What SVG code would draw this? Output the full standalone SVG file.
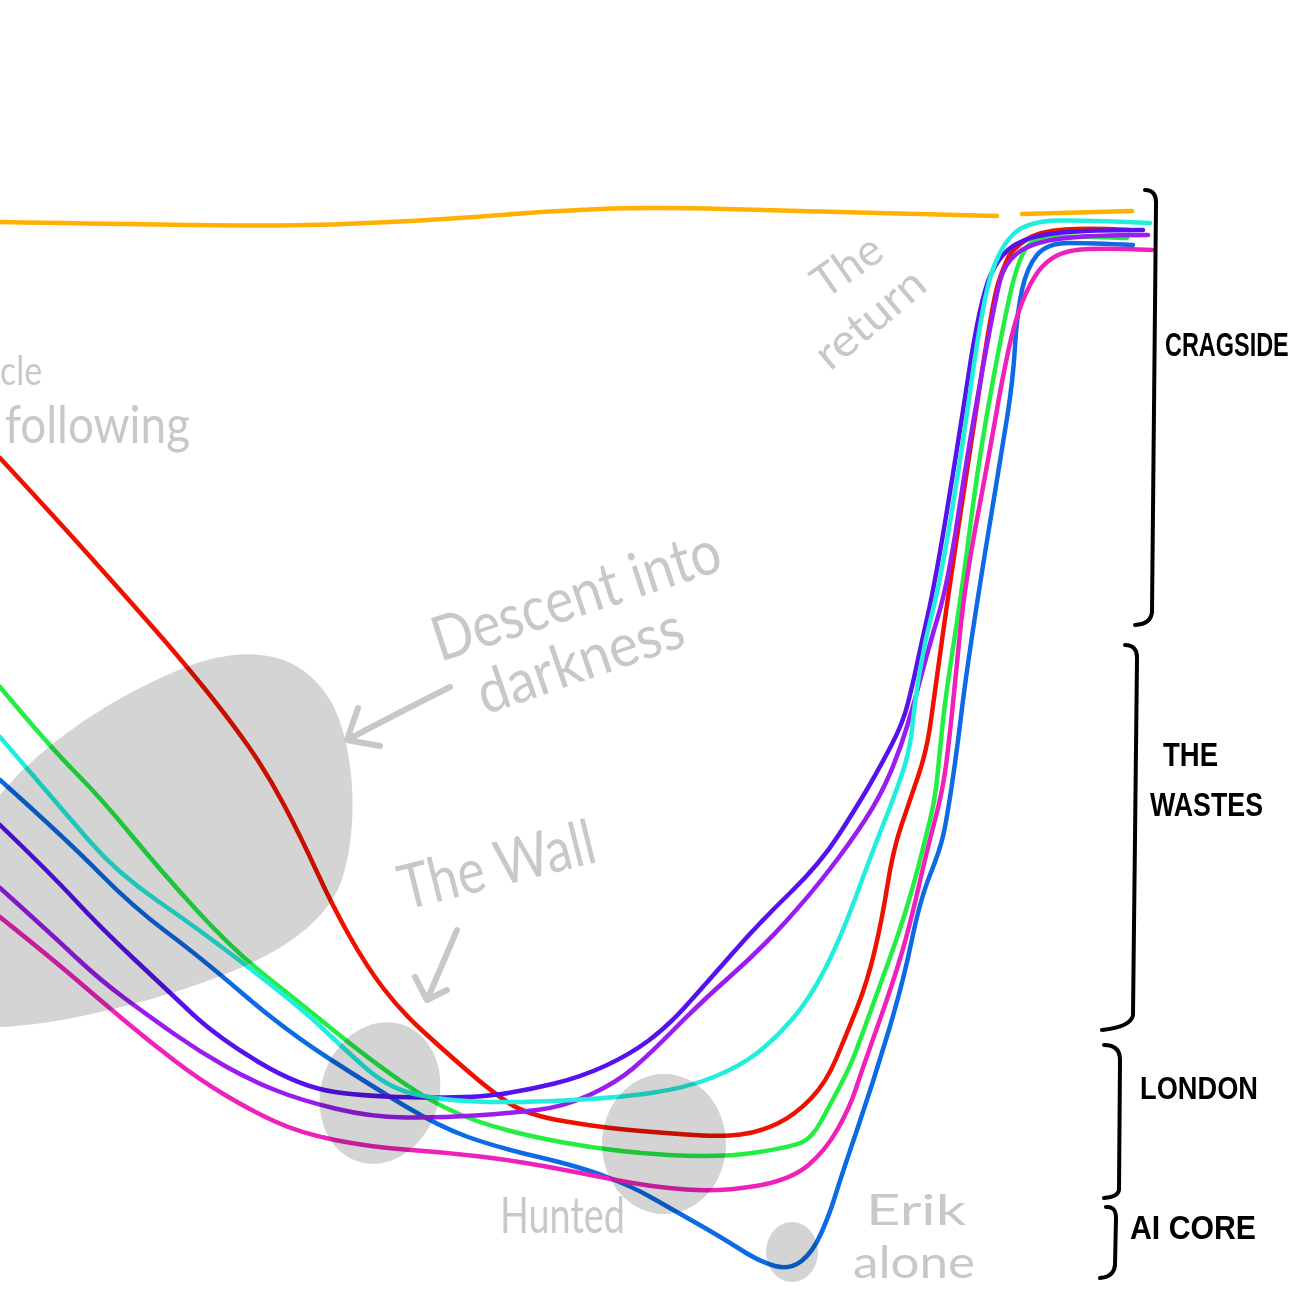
<svg xmlns="http://www.w3.org/2000/svg" width="1300" height="1300" viewBox="0 0 1300 1300">
<style>
.arc{fill:none;stroke-width:4.5;stroke-linecap:round;stroke-linejoin:round}
.blob{fill:#d4d4d4;mix-blend-mode:multiply}
.note{fill:#c8c8c8;font-family:"Lato","Noto Sans","Liberation Sans",sans-serif}
.loc{fill:#000;font-family:"Liberation Sans","DejaVu Sans",sans-serif;font-weight:bold}
.brk{fill:none;stroke:#000;stroke-width:4;stroke-linecap:round;stroke-linejoin:round}
.arw{fill:none;stroke:#c8c8c8;stroke-width:6;stroke-linecap:round;stroke-linejoin:round}
</style>
<rect width="1300" height="1300" fill="#fff"/>
<g id="connectors">
<path id="orange" class="arc" stroke="#ffb000" stroke-width="5" d="M0,222 Q230,226 280,225.5 Q330,225 390,222 Q450,219 500,215 Q550,211 600,209 Q650,207 725,209 Q800,211 997,216"/>
<path id="orange2" class="arc" stroke="#ffb000" stroke-width="5" d="M1022,214 L1132,211"/>
<path id="green" class="arc" stroke="#22ee44" d="M0,687 Q50,747 75,772 Q100,797 130,833.5 Q160,870 196.5,910 Q233,950 266.5,976.5 Q300,1003 335,1031.5 Q370,1060 405,1084 Q440,1108 475.5,1120.5 Q511,1133 563.5,1142.5 Q616,1152 668.5,1155 Q721,1158 756,1152.5 Q791,1147 801.5,1142.5 Q812,1138 821,1121.5 Q830,1105 840,1086 Q850,1067 856,1051 Q862,1035 871,1010 Q880,985 890,957.5 Q900,930 907.5,905 Q915,880 920,860 Q925,840 930,820 Q935,800 937.5,775 Q940,750 942.5,725 Q945,700 954,641.5 Q963,583 971.5,516.5 Q980,450 994,375 Q1008,300 1014,278.5 Q1020,257 1026.5,247.5 Q1033,238 1056.5,237 Q1080,236 1127,238"/>
<path id="red" class="arc" stroke="#ee1100" d="M0,458 Q60,523 90,556.5 Q120,590 150,624 Q180,658 205,689 Q230,720 248.5,746.5 Q267,773 283.5,804 Q300,835 316.5,871 Q333,907 350,937 Q367,967 383.5,988.5 Q400,1010 420,1028.5 Q440,1047 466.5,1070 Q493,1093 510.5,1104 Q528,1115 563,1121 Q598,1127 624.5,1129.5 Q651,1132 686,1134.5 Q721,1137 740.5,1134.5 Q760,1132 777.5,1123.5 Q795,1115 810.5,1099 Q826,1083 836.5,1058 Q847,1033 857,1008 Q867,983 874.5,951.5 Q882,920 887.5,885 Q893,850 901.5,825 Q910,800 918.5,775 Q927,750 931,720 Q935,690 942.5,636.5 Q950,583 960,516.5 Q970,450 981.5,375 Q993,300 998,284 Q1003,268 1008,258 Q1013,248 1026.5,239.5 Q1040,231 1065,229.5 Q1090,228 1130,230"/>
<path id="blue" class="arc" stroke="#0c6ae4" d="M0,780 Q67,840 100,873.5 Q133,907 166.5,932 Q200,957 242.5,993.5 Q285,1030 327.5,1057.5 Q370,1085 405,1106 Q440,1127 468,1137 Q496,1147 538.5,1157 Q581,1167 607,1177 Q633,1187 650.5,1197 Q668,1207 694.5,1222 Q721,1237 740.5,1249.5 Q760,1262 775,1266 Q790,1270 801.5,1261 Q813,1252 821.5,1232.5 Q830,1213 835,1196.5 Q840,1180 856.5,1131.5 Q873,1083 888,1033 Q903,983 911.5,941.5 Q920,900 930,875 Q940,850 943.5,834 Q947,818 952,784 Q957,750 961,716.5 Q965,683 972.5,633 Q980,583 991,516.5 Q1002,450 1007.5,415 Q1013,380 1015,346.5 Q1017,313 1022,290 Q1027,267 1037,255 Q1047,243 1068.5,243 Q1090,243 1133,245"/>
<path id="magenta" class="arc" stroke="#ee22bb" d="M0,917 Q50,957 75,978.5 Q100,1000 125,1021 Q150,1042 175,1061 Q200,1080 225,1095 Q250,1110 275,1121.5 Q300,1133 335,1140 Q370,1147 405,1149.5 Q440,1152 475.5,1156 Q511,1160 546,1166.5 Q581,1173 616,1180 Q651,1187 686,1189.5 Q721,1192 756,1186 Q791,1180 808.5,1165 Q826,1150 838,1128.5 Q850,1107 856,1088.5 Q862,1070 877.5,1026.5 Q893,983 901.5,954 Q910,925 918.5,887.5 Q927,850 935,820 Q943,790 946.5,761.5 Q950,733 952.5,708 Q955,683 960,633 Q965,583 977.5,516.5 Q990,450 996,415 Q1002,380 1008.5,350 Q1015,320 1022.5,301.5 Q1030,283 1037.5,272.5 Q1045,262 1056,256 Q1067,250 1088.5,249 Q1110,248 1152,250"/>
<path id="purple" class="arc" stroke="#9a1cee" d="M0,888 Q50,933 75,956.5 Q100,980 125,998.5 Q150,1017 175,1034.5 Q200,1052 225,1066 Q250,1080 275,1090 Q300,1100 335,1108.5 Q370,1117 405,1117.5 Q440,1118 475.5,1115.5 Q511,1113 537,1110 Q563,1107 589.5,1095 Q616,1083 633.5,1068 Q651,1053 675.5,1028 Q700,1003 730,976.5 Q760,950 785,922.5 Q810,895 830,869 Q850,843 865,820 Q880,797 890,773.5 Q900,750 907.5,725 Q915,700 921.5,675 Q928,650 938,616.5 Q948,583 958,516.5 Q968,450 981.5,375 Q995,300 1000,281 Q1005,262 1019,252 Q1033,242 1061.5,238.5 Q1090,235 1148,235"/>
<path id="indigo" class="arc" stroke="#5511ee" d="M0,825 Q50,873 75,900 Q100,927 133.5,958.5 Q167,990 192,1013.5 Q217,1037 258.5,1062 Q300,1087 335,1092 Q370,1097 422.5,1097.5 Q475,1098 501.5,1094 Q528,1090 554.5,1083.5 Q581,1077 605,1066 Q629,1055 648,1041 Q667,1027 685,1007 Q703,987 731.5,954.5 Q760,922 790,893 Q820,864 839,834.5 Q858,805 869,786 Q880,767 891.5,745 Q903,723 908,703 Q913,683 916.5,666.5 Q920,650 927.5,616.5 Q935,583 946,516.5 Q957,450 968.5,375 Q980,300 990,276.5 Q1000,253 1016.5,244 Q1033,235 1061.5,232.5 Q1090,230 1143,230"/>
<path id="cyan" class="arc" stroke="#22eedd" d="M0,737 Q60,807 88.5,840 Q117,873 158.5,901.5 Q200,930 250,968.5 Q300,1007 320,1026 Q340,1045 364,1066.5 Q388,1088 414,1094 Q440,1100 475.5,1101.5 Q511,1103 563.5,1100.5 Q616,1098 651,1093 Q686,1088 712.5,1077.5 Q739,1067 756.5,1053.5 Q774,1040 791.5,1020 Q809,1000 824.5,970 Q840,940 856.5,895 Q873,850 884,822.5 Q895,795 902.5,772.5 Q910,750 912.5,725 Q915,700 920,670 Q925,640 932.5,611.5 Q940,583 951,516.5 Q962,450 972.5,375 Q983,300 991.5,273.5 Q1000,247 1013.5,234 Q1027,221 1058.5,220.5 Q1090,220 1150,223"/>
</g>
<g id="regions">
<path id="descent-blob" class="blob" d="M0,795 C40,745 120,690 200,662 C260,645 305,655 333,705 C355,750 360,830 340,885 C320,930 270,958 210,980 C150,1002 60,1025 0,1027 Z"/>
<ellipse id="wall-blob" class="blob" cx="380" cy="1093" rx="59" ry="72" transform="rotate(18 380 1093)"/>
<ellipse id="hunted-blob" class="blob" cx="664" cy="1144" rx="62" ry="70"/>
<ellipse id="erik-blob" class="blob" cx="792" cy="1252" rx="26" ry="30"/>
</g>
<g id="annotations">
<text class="note" x="0" y="385" font-size="40" textLength="42" lengthAdjust="spacingAndGlyphs">cle</text>
<text class="note" x="5" y="443" font-size="52" textLength="185" lengthAdjust="spacingAndGlyphs">following</text>
<text class="note" x="825" y="300" font-size="45" textLength="75" lengthAdjust="spacingAndGlyphs" transform="rotate(-35 825 300)">The</text>
<text class="note" x="830" y="372" font-size="45" textLength="130" lengthAdjust="spacingAndGlyphs" transform="rotate(-40 830 372)">return</text>
<text class="note" x="440" y="662" font-size="62" textLength="300" lengthAdjust="spacingAndGlyphs" transform="rotate(-18 440 662)">Descent into</text>
<text class="note" x="485" y="715" font-size="60" textLength="215" lengthAdjust="spacingAndGlyphs" transform="rotate(-19 485 715)">darkness</text>
<path class="arw" d="M450,687 Q400,712 347,740 M358,708 L347,740 L380,746"/>
<text class="note" x="405" y="910" font-size="62" textLength="200" lengthAdjust="spacingAndGlyphs" transform="rotate(-14 405 910)">The Wall</text>
<path class="arw" d="M457,930 Q442,965 427,1000 M415,977 L427,1000 L447,990"/>
<text class="note" x="500" y="1233" font-size="50" textLength="125" lengthAdjust="spacingAndGlyphs">Hunted</text>
<text class="note" x="866" y="1225" font-size="42" textLength="100" lengthAdjust="spacingAndGlyphs">Erik</text>
<text class="note" x="853" y="1278" font-size="44" textLength="122" lengthAdjust="spacingAndGlyphs">alone</text>
</g>
<g id="cragside">
<path class="brk" d="M1145,190 Q1157,190 1156,205 L1152,612 Q1151,624 1135,625"/>
<text class="loc" x="0" y="0" font-size="34" transform="translate(1165 356) scale(0.69 1)">CRAGSIDE</text>
</g>
<g id="wastes">
<path class="brk" d="M1125,645 Q1138,645 1137,660 L1133,1015 Q1131,1027 1102,1030"/>
<text class="loc" x="1163" y="766" font-size="34" textLength="55" lengthAdjust="spacingAndGlyphs">THE</text>
<text class="loc" x="1150" y="816" font-size="34" textLength="113" lengthAdjust="spacingAndGlyphs">WASTES</text>
</g>
<g id="london">
<path class="brk" d="M1104,1045 Q1120,1045 1120,1060 L1119,1190 Q1118,1197 1104,1198"/>
<text class="loc" x="1140" y="1099" font-size="32" textLength="118" lengthAdjust="spacingAndGlyphs">LONDON</text>
</g>
<g id="ai-core">
<path class="brk" d="M1106,1207 Q1116,1206 1116,1218 L1115,1265 Q1114,1277 1100,1278"/>
<text class="loc" x="1130" y="1239" font-size="34" textLength="126" lengthAdjust="spacingAndGlyphs">AI CORE</text>
</g>
</svg>
